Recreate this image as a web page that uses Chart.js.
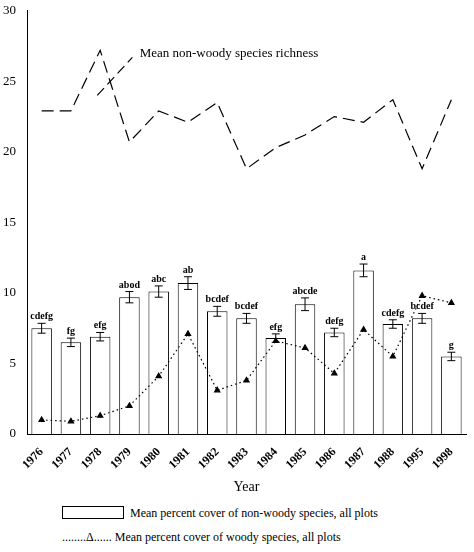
<!DOCTYPE html>
<html><head>
<script src="https://cdn.jsdelivr.net/npm/chart.js@4"></script>
<style>
body{margin:0;background:#fff;font-family:"Liberation Serif",serif;}
#wrap{width:474px;height:500px;position:relative;}
.leg{font-size:12px;position:absolute;left:62px;}
</style>
</head><body>
<div id="wrap"><canvas id="c"></canvas></div>
<div class="leg" style="top:506px;"><span style="display:inline-block;width:60px;height:11px;border:1px solid #000;vertical-align:-2px;margin-right:6px"></span>Mean percent cover of non-woody species, all plots</div>
<div class="leg" style="top:530px;">........&#916;...... Mean percent cover of woody species, all plots</div>
<script>
var years = ['1976','1977','1978','1979','1980','1981','1982','1983','1984','1985','1986','1987','1988','1995','1998'];
var richness = [22.9,22.9,27.2,20.7,22.9,22.1,23.5,18.8,20.3,21.2,22.5,22.1,23.7,18.8,23.7];
var nonWoodyCover = [7.5,6.5,6.9,9.7,10.1,10.7,8.7,8.2,6.8,9.2,7.2,11.6,7.8,8.2,5.5];
var coverError = [0.35,0.3,0.3,0.4,0.4,0.45,0.35,0.35,0.3,0.45,0.3,0.45,0.3,0.35,0.3];
var letters = ['cdefg','fg','efg','abod','abc','ab','bcdef','bcdef','efg','abcde','defg','a','cdefg','bcdef','g'];
var woodyCover = [1.0,0.9,1.3,2.0,4.1,7.1,3.1,3.8,6.6,6.1,4.3,7.4,5.5,9.8,9.3];

// error bars, letters and the richness label
var extras = {
  id: 'extras',
  afterDatasetsDraw: function(chart) {
    var ctx = chart.ctx, x = chart.scales.x, y = chart.scales.y;
    ctx.save();
    ctx.strokeStyle = '#000'; ctx.fillStyle = '#000'; ctx.lineWidth = 1;
    ctx.font = 'bold 10px "Liberation Serif"'; ctx.textAlign = 'center';
    nonWoodyCover.forEach(function(v, i) {
      var px = x.getPixelForValue(i), top = y.getPixelForValue(v + coverError[i]), bot = y.getPixelForValue(v - coverError[i]);
      ctx.beginPath();
      ctx.moveTo(px, top); ctx.lineTo(px, bot);
      ctx.moveTo(px - 4, top); ctx.lineTo(px + 4, top);
      ctx.moveTo(px - 4, bot); ctx.lineTo(px + 4, bot);
      ctx.stroke();
      ctx.fillText(letters[i], px, top - 4);
    });
    ctx.setLineDash([10, 5]);
    ctx.lineWidth = 1.2;
    ctx.beginPath();
    ctx.moveTo(x.getPixelForValue(1.9), y.getPixelForValue(24.0));
    ctx.lineTo(x.getPixelForValue(3.1), y.getPixelForValue(26.7));
    ctx.stroke();
    ctx.setLineDash([]);
    ctx.font = '13px "Liberation Serif"'; ctx.textAlign = 'left';
    ctx.fillText('Mean non-woody species richness', x.getPixelForValue(3.35), y.getPixelForValue(26.7));
    ctx.restore();
  }
};

new Chart(document.getElementById('c'), {
  data: {
    labels: years,
    datasets: [
      { type: 'line', data: richness, borderColor: '#000', borderWidth: 1.2, borderDash: [12, 6], pointRadius: 0, fill: false },
      { type: 'line', data: woodyCover, borderColor: '#000', borderWidth: 1.2, borderDash: [1.5, 3], pointStyle: 'triangle', pointRadius: 3, pointBackgroundColor: '#000', pointBorderColor: '#000', fill: false },
      { type: 'bar', data: nonWoodyCover, backgroundColor: '#fff', borderColor: '#000', borderWidth: 1, barPercentage: 0.7, categoryPercentage: 1 }
    ]
  },
  options: {
    responsive: true, maintainAspectRatio: false, animation: false,
    layout: { padding: { right: 8, top: 6 } },
    plugins: { legend: { display: false }, tooltip: { enabled: false } },
    scales: {
      x: {
        grid: { display: false, drawTicks: true },
        border: { color: '#000' },
        ticks: { color: '#000', maxRotation: 45, minRotation: 45, font: { family: 'Liberation Serif', size: 12, weight: 'bold' } },
        title: { display: true, text: 'Year', color: '#000', font: { family: 'Liberation Serif', size: 14 } }
      },
      y: {
        min: 0, max: 30,
        grid: { display: false, drawTicks: true },
        border: { color: '#000' },
        ticks: { stepSize: 5, color: '#000', font: { family: 'Liberation Serif', size: 13 } }
      }
    }
  },
  plugins: [extras]
});
</script>
</body></html>
